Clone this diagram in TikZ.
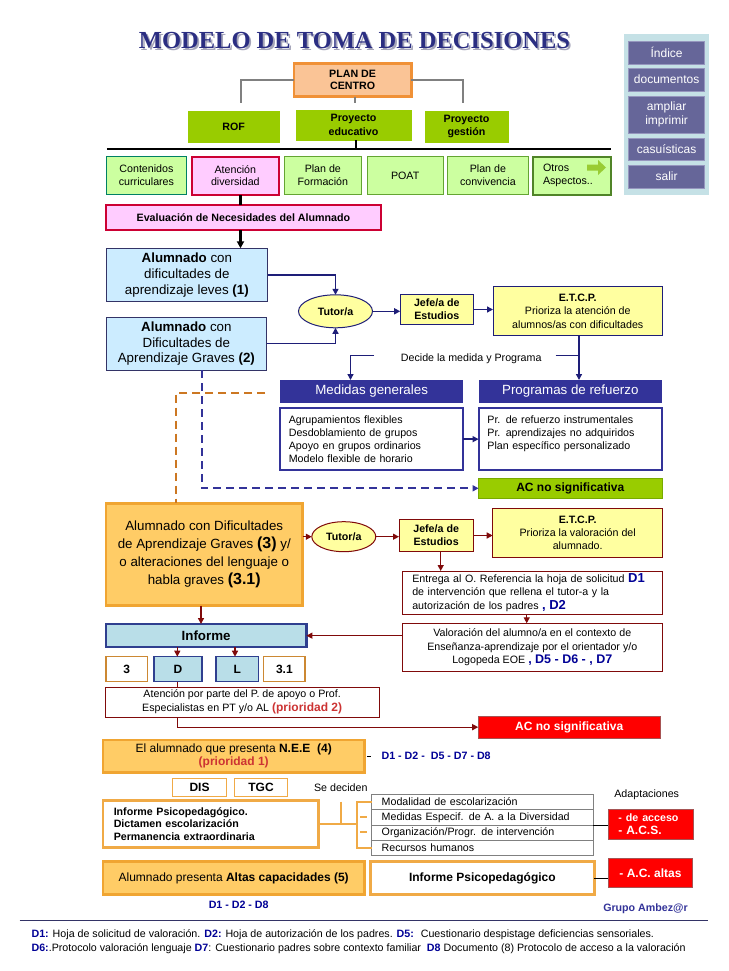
\documentclass[tikz,border=0pt]{standalone}
\usepackage{fontspec}
\setmainfont{Liberation Sans}
\newfontfamily\titlefont{Liberation Serif}
\usetikzlibrary{arrows.meta,shapes.geometric}
\newcommand\fsz[2]{\fontsize{#1}{#2}\selectfont}
\definecolor{navfill}{RGB}{102,102,153}
\definecolor{navedge}{RGB}{150,150,190}
\definecolor{panel}{RGB}{197,225,230}
\definecolor{plfill}{RGB}{250,196,150}
\definecolor{pledge}{RGB}{240,145,55}
\definecolor{greenA}{RGB}{153,204,0}
\definecolor{greenE}{RGB}{120,170,0}
\definecolor{lgfill}{RGB}{204,255,160}
\definecolor{lgedge}{RGB}{100,165,50}
\definecolor{ccedge}{RGB}{0,128,100}
\definecolor{arrowg}{RGB}{153,204,51}
\definecolor{pinkfill}{RGB}{255,204,255}
\definecolor{pinkedge}{RGB}{204,0,51}
\definecolor{lbfill}{RGB}{204,236,255}
\definecolor{lbedge}{RGB}{51,51,102}
\definecolor{ylfill}{RGB}{255,255,160}
\definecolor{hdr}{RGB}{51,51,153}
\definecolor{navyA}{RGB}{30,30,120}
\definecolor{infofill}{RGB}{185,222,232}
\definecolor{infoedge}{RGB}{47,63,143}
\definecolor{orfill}{RGB}{255,204,102}
\definecolor{oredge}{RGB}{240,165,50}
\definecolor{brown}{RGB}{204,136,51}
\definecolor{dkred}{RGB}{128,10,10}
\definecolor{redA}{RGB}{255,0,0}
\definecolor{prio}{RGB}{204,51,51}
\definecolor{dnavy}{RGB}{0,0,150}
\definecolor{titlec}{RGB}{43,46,130}
\definecolor{titles}{RGB}{165,165,185}
\definecolor{grayl}{RGB}{128,128,128}
\definecolor{orangeD}{RGB}{204,119,34}
\definecolor{orangeL}{RGB}{240,170,70}
\newcommand\dn[1]{{\bfseries\color{dnavy}#1}}
\begin{document}
\begin{tikzpicture}[x=1pt,y=-1pt,
  base/.style={inner sep=0pt,outer sep=0pt,align=center,font=\fsz{10.67}{13}},
  navbtn/.style={base,fill=navfill,draw=navedge,line width=0.8pt,text=white,minimum width=76pt,font=\fsz{12}{14.4}},
  plan/.style={base,fill=plfill,draw=pledge,line width=2.5pt,font=\bfseries\fsz{10.67}{12}},
  gbox/.style={base,fill=greenA,draw=greenA,font=\bfseries\fsz{10.67}{13.3}},
  lgbox/.style={base,fill=lgfill,draw=lgedge,line width=1pt,minimum height=38pt,font=\fsz{10.67}{12.7}},
  pinkbox/.style={base,fill=pinkfill,draw=pinkedge,line width=2pt},
  bluebox/.style={base,fill=lbfill,draw=lbedge,line width=1pt,font=\fsz{13.33}{15.8}},
  tutor/.style={base,ellipse,fill=ylfill,draw=navyA,line width=1pt,font=\bfseries\fsz{10.67}{13}},
  ybox/.style={base,fill=ylfill,draw=navyA,line width=1pt},
  hdrbox/.style={base,fill=hdr,text=white,font=\fsz{13.33}{16}},
  listbox/.style={base,fill=white,draw=hdr,line width=1.8pt,align=left,font=\fsz{10.67}{12.8}},
  acg/.style={base,fill=greenA,draw=greenE,line width=0.8pt,font=\bfseries\fsz{12}{14}},
  acr/.style={base,fill=redA,draw=dkred!70,line width=0.8pt,text=white,font=\bfseries\fsz{12}{14}},
  orbox/.style={base,fill=orfill,draw=oredge,line width=2.5pt,font=\fsz{12}{13.3}},
  rbox/.style={base,fill=white,draw=dkred,line width=1pt},
  infobox/.style={base,fill=infofill,draw=infoedge,line width=2.2pt,font=\bfseries\fsz{13.33}{15}},
  smallb/.style={base,fill=white,draw=brown,line width=1.5pt,font=\bfseries\fsz{12}{14}},
  smallbl/.style={base,fill=infofill,draw=infoedge,line width=1.5pt,font=\bfseries\fsz{12}{14}},
  obox/.style={base,fill=white,draw=orangeL,line width=1.4pt,font=\bfseries\fsz{12}{14}},
  oboxt/.style={base,fill=white,draw=orangeL,line width=2.8pt},
  trow/.style={base,fill=white,draw=grayl,line width=0.7pt,minimum width=221.6pt,minimum height=15.35pt,text width=201.6pt,align=left},
  lbl/.style={base},
  grayline/.style={draw=grayl,line width=2pt},
  blackline/.style={draw=black,line width=2.2pt},
  blackarrow/.style={draw=black,line width=2.2pt,-{Triangle[length=7pt,width=7pt]}},
  navline/.style={draw=navyA,line width=1.4pt},
  navarrow/.style={draw=navyA,line width=1.4pt,-{Triangle[length=6pt,width=6pt]}},
  navdash/.style={draw=hdr,line width=1.8pt,dash pattern=on 8pt off 5pt,-{Triangle[length=6pt,width=6pt]}},
  orangedash/.style={draw=orangeD,line width=2.2pt,dash pattern=on 8pt off 5pt},
  redline/.style={draw=dkred,line width=1.3pt},
  redarrow/.style={draw=dkred,line width=1.3pt,-{Triangle[length=6pt,width=6pt]}},
  orangeline/.style={draw=orangeL,line width=2pt},
  thinline/.style={draw=black,line width=1pt}
]
\useasboundingbox (0,0) rectangle (728,971);
\fill[white] (0,0) rectangle (728,971);

% title
\node[base,font=\titlefont\bfseries\fsz{24.5}{28},text=titles] (titleS) at (356.3,42.8) {MODELO DE TOMA DE DECISIONES};
\node[base,font=\titlefont\bfseries\fsz{24.5}{28},text=titlec] (title) at (354.5,41) {MODELO DE TOMA DE DECISIONES};

% navigation panel
\fill[panel] (623.5,34) rectangle (709.4,195);
\node[navbtn,minimum height=23pt] (nav1) at (666.6,52.5) {Índice};
\node[navbtn,minimum height=23pt] (nav2) at (666.6,79.5) {documentos};
\node[navbtn,minimum height=37pt] (nav3) at (666.6,114.5) {ampliar\\imprimir};
\node[navbtn,minimum height=22pt] (nav4) at (666.6,149) {casuísticas};
\node[navbtn,minimum height=23pt] (nav5) at (666.6,176.5) {salir};

% plan de centro
\node[plan,minimum width=117.4pt,minimum height=33.4pt] (PLAN) at (352.6,80) {PLAN DE\\CENTRO};
\node[gbox,minimum width=91.5pt,minimum height=30.7pt] (ROF) at (233.75,126.35) {ROF};
\node[gbox,minimum width=115pt,minimum height=30pt] (PE) at (353.5,125) {Proyecto\\educativo};
\node[gbox,minimum width=83pt,minimum height=30.7pt] (PG) at (466.5,126.35) {Proyecto\\gestión};
\coordinate (gL) at (241.4,103);
\coordinate (gR) at (463.3,103);
\coordinate (gC) at (355,103);
\draw[grayline] (PLAN.west) -| (gL);
\draw[grayline] (PLAN.east) -| (gR);
\draw[grayline] (PLAN.south -| gC) -- (gC);
\coordinate (hL) at (106.8,148.7);
\coordinate (hR) at (611,148.7);
\coordinate (hC) at (356,148.7);
\draw[blackline] (hL) -- (hR);
\draw[blackline] (PE.south -| hC) -- (hC);

% row of boxes
\node[lgbox,draw=ccedge,minimum width=80.3pt] (CC) at (146.45,175.5) {Contenidos\\curriculares};
\node[pinkbox,minimum width=87.3pt,minimum height=38pt,font=\fsz{10.67}{12.7}] (AD) at (235.35,175.5) {Atención\\diversidad};
\node[lgbox,minimum width=77.7pt] (PF) at (322.85,175.5) {Plan de\\Formación};
\node[lgbox,minimum width=76.4pt] (POAT) at (405.2,175.5) {POAT};
\node[lgbox,minimum width=80.8pt] (PC) at (487.9,175.5) {Plan de\\convivencia};
\node[lgbox,line width=2pt,draw=lgedge!80!black,minimum width=77.1pt,text width=57.9pt,align=left] (OA) at (571.95,175.5) {Otros\\Aspectos..};
\fill[arrowg] (587,164.5) -- (598,164.5) -- (598,160) -- (606,167.5) -- (598,175) -- (598,170.5) -- (587,170.5) -- cycle;

% evaluación
\node[pinkbox,minimum width=275.2pt,minimum height=25.3pt,font=\bfseries\fsz{10.67}{13}] (Eval) at (243.4,217.65) {Evaluación de Necesidades del Alumnado};
\coordinate (c1) at (240.5,0);
\draw[blackline] (AD.south -| c1) -- (Eval.north -| c1);

% alumnado leves / graves
\node[bluebox,minimum width=161.7pt,minimum height=53.4pt] (Leves) at (186.85,275) {{\bfseries Alumnado} con\\dificultades de\\aprendizaje leves {\bfseries (1)}};
\node[bluebox,minimum width=160.7pt,minimum height=52.7pt] (Graves) at (186.35,343.65) {{\bfseries Alumnado} con\\Dificultades de\\Aprendizaje Graves {\bfseries (2)}};
\draw[blackarrow] (Eval.south -| c1) -- (Leves.north -| c1);
\node[tutor,minimum width=74pt,minimum height=33pt] (Tutor1) at (335.5,311.3) {Tutor/a};
\node[ybox,minimum width=73.3pt,minimum height=30.4pt,font=\bfseries\fsz{10.67}{13.3}] (Jefe1) at (436.85,309.5) {Jefe/a de\\Estudios};
\node[ybox,minimum width=169.5pt,minimum height=49pt,font=\fsz{10.67}{13.3}] (ETCP1) at (577.75,311.2) {{\bfseries E.T.C.P.}\\Prioriza la atención de\\alumnos/as con dificultades};
\draw[navarrow] (Leves.east) -| (Tutor1.north);
\draw[navarrow] (Graves.east) -| (Tutor1.south);
\draw[navarrow] (Tutor1.east) -- (Tutor1.east -| Jefe1.west);
\draw[navarrow] (Jefe1.east) -- (Jefe1.east -| ETCP1.west);

% medidas / programas
\node[hdrbox,minimum width=183.3pt,minimum height=23pt] (MH) at (371.65,391.5) {Medidas generales};
\node[hdrbox,minimum width=183.4pt,minimum height=23pt] (PH) at (570.3,391.5) {Programas de refuerzo};
\node[listbox,minimum width=183.3pt,minimum height=61.7pt,text width=165.7pt] (ML) at (371.65,439.15) {Agrupamientos flexibles\\Desdoblamiento de grupos\\Apoyo en grupos ordinarios\\Modelo flexible de horario};
\node[listbox,minimum width=183.4pt,minimum height=61.7pt,text width=165.8pt] (PL) at (570.3,439.15) {Pr. de refuerzo instrumentales\\Pr. aprendizajes no adquiridos\\Plan específico personalizado\\\mbox{}};
\node[acg,minimum width=183.4pt,minimum height=20pt] (AC1) at (570.3,488.3) {AC no significativa};
\node[lbl] (Decide) at (471.2,358.3) {Decide la medida y Programa};
\coordinate (c579) at (579,0);
\coordinate (c350) at (350.5,0);
\coordinate (dR) at (555.7,355.7);
\coordinate (dL) at (374,355.7);
\draw[navarrow] (ETCP1.south -| c579) -- (PH.north -| c579);
\draw[navline] (dR) -- (dR -| c579);
\draw[navarrow] (dL) -- (dL -| c350) -- (MH.north -| c350);
\draw[navarrow] (ML.east) -- (PL.west);
\coordinate (c201) at (201.7,0);
\draw[navdash] (Graves.south -| c201) |- (AC1.west);

% alumnado graves (3)
\node[orbox,line width=2.5pt,minimum width=196.9pt,minimum height=102.4pt,font=\fsz{13.33}{18}] (Big) at (204.25,554.5) {Alumnado con Dificultades\\de Aprendizaje Graves {\fsz{16}{18}\bfseries(3)} y/\\o alteraciones del lenguaje o\\habla graves {\fsz{16}{18}\bfseries(3.1)}};
\coordinate (od) at (265,392.7);
\coordinate (c175) at (176,0);
\draw[orangedash] (od) -| (Big.north -| c175);
\node[tutor,draw=dkred,minimum width=64pt,minimum height=30pt] (Tutor2) at (343.8,536.7) {Tutor/a};
\node[ybox,draw=dkred,minimum width=74.3pt,minimum height=32.4pt,font=\bfseries\fsz{10.67}{13.3}] (Jefe2) at (436.15,535.5) {Jefe/a de\\Estudios};
\node[ybox,draw=dkred,minimum width=170pt,minimum height=49pt,font=\fsz{10.67}{13}] (ETCP2) at (577.7,532.8) {{\bfseries E.T.C.P.}\\Prioriza la valoración del\\alumnado.};
\node[rbox,minimum width=260pt,minimum height=43pt,text width=240pt,align=left,font=\fsz{10.67}{13.3}] (Entrega) at (532.3,592.5) {Entrega al O. Referencia la hoja de solicitud \dn{\fsz{13}{13}D1}\\de intervención que rellena el tutor-a y la\\autorización de los padres \dn{\fsz{13}{13}, D2}};
\node[rbox,minimum width=260pt,minimum height=48.4pt,font=\fsz{10.67}{13.6}] (Val) at (532.3,647.5) {Valoración del alumno/a en el contexto de\\Enseñanza-aprendizaje por el orientador y/o\\Logopeda EOE \dn{\fsz{12.5}{13}, D5 - D6 - , D7}};
\coordinate (c440) at (440.7,0);
\coordinate (c527) at (526.7,0);
\draw[redarrow] (Tutor2.west -| Big.east) -- (Tutor2.west);
\draw[redarrow] (Tutor2.east) -- (Tutor2.east -| Jefe2.west);
\draw[redarrow] (Jefe2.east) -- (Jefe2.east -| ETCP2.west);
\draw[redarrow] (Jefe2.south -| c440) -- (Entrega.north -| c440);
\draw[redarrow] (Entrega.south -| c527) -- (Val.north -| c527);

% informe
\node[infobox,minimum width=200.6pt,minimum height=23.3pt] (Informe) at (206.1,635.65) {Informe};
\draw[redarrow] (Val.west |- Informe.east) -- (Informe.east);
\coordinate (c201b) at (201,0);
\draw[redarrow] (Big.south -| c201b) -- (Informe.north -| c201b);
\node[smallb,minimum width=41.8pt,minimum height=25pt] (B3) at (126.7,669.2) {3};
\node[smallbl,minimum width=47.9pt,minimum height=25pt] (BD) at (178.05,669.2) {D};
\node[smallbl,minimum width=42.7pt,minimum height=25pt] (BL) at (237.25,669.2) {L};
\node[smallb,minimum width=41.3pt,minimum height=25pt] (B31) at (284.35,669.2) {3.1};
\coordinate (cD) at (177.3,0);
\coordinate (cL) at (235,0);
\draw[redarrow] (Informe.south -| cD) -- (BD.north -| cD);
\draw[redarrow] (Informe.south -| cL) -- (BL.north -| cL);
\node[rbox,minimum width=274.3pt,minimum height=30pt,font=\fsz{10.67}{14}] (Aten) at (242.15,702.3) {Atención por parte del P. de apoyo o Prof.\\Especialistas en PT y/o AL {\bfseries\color{prio}\fsz{12}{14}(prioridad 2)}};
\draw[redline] (BD.south -| cD) -- (Aten.north -| cD);
\node[acr,minimum width=182pt,minimum height=22.3pt] (AC2) at (569.2,727.15) {AC no significativa};
\draw[redarrow] (Aten.south -| cD) |- (AC2.west);

% NEE
\node[orbox,minimum width=261.4pt,minimum height=32.3pt] (NEE) at (233.7,756.15) {El alumnado que presenta {\bfseries N.E.E~~(4)}\\{\bfseries\color{prio}(prioridad 1)}};
\coordinate (nd) at (366.8,756);
\draw[thinline] (nd) -- ++(4.6,0);
\node[base,anchor=west,font=\bfseries\fsz{10.67}{13},text=dnavy] (Dlist) at (381.6,756) {D1 - D2 -~ D5 - D7 - D8};
\node[obox,minimum width=54.4pt,minimum height=18.4pt] (DIS) at (199.5,787.5) {DIS};
\node[obox,minimum width=53.4pt,minimum height=18.4pt] (TGC) at (261,787.5) {TGC};
\node[lbl] (SeD) at (340.8,787.7) {Se deciden};
\node[oboxt,minimum width=215.5pt,minimum height=46.6pt,text width=194pt,align=left,font=\bfseries\fsz{10.67}{12.3}] (IPL) at (210.75,824) {Informe Psicopedagógico.\\Dictamen escolarización\\Permanencia extraordinaria};
\node[trow] (R1) at (482.5,801.98) {Modalidad de escolarización};
\node[trow] (R2) at (482.5,817.33) {Medidas Especif. de A. a la Diversidad};
\node[trow] (R3) at (482.5,832.68) {Organización/Progr. de intervención};
\node[trow] (R4) at (482.5,848.03) {Recursos humanos};
\coordinate (bT) at (356.5,801.7);
\coordinate (bB) at (356.5,848.3);
\coordinate (stem) at (341,801.7);
\coordinate (m1) at (360,817.3);
\coordinate (m2) at (360,832.3);
\draw[orangeline] (IPL.east) -- (IPL.east -| bT);
\draw[orangeline] (stem) -- (stem |- IPL.east);
\draw[orangeline] (R1.west |- bT) -- (bT) -- (bB) -- (R1.west |- bB);
\draw[orangeline] (m1) -- ++(6.8,0);
\draw[orangeline] (m2) -- ++(6.8,0);
\node[lbl] (Adap) at (646.7,794.3) {Adaptaciones};
\node[acr,minimum width=85pt,minimum height=30pt,text width=65pt,align=left,font=\bfseries\fsz{12}{13}] (ACS) at (650.8,824.3) {{\fsz{10.67}{13}- de acceso}\\- A.C.S.};
\draw[thinline] (R3.north east) -- (R3.north east -| ACS.west);

% altas capacidades
\node[orbox,minimum width=261.4pt,minimum height=32.6pt] (Altas) at (233.7,878) {Alumnado presenta {\bfseries Altas capacidades (5)}};
\node[oboxt,minimum width=223.7pt,minimum height=32.6pt,font=\bfseries\fsz{12}{14}] (IPR) at (482.35,878) {Informe Psicopedagógico};
\node[acr,minimum width=84.5pt,minimum height=29pt] (AltasRed) at (650.45,872.8) {- A.C. altas};
\draw[thinline] (IPR.east) -- (IPR.east -| AltasRed.west);
\node[base,font=\bfseries\fsz{10.67}{13},text=dnavy] (D128) at (238.7,905) {D1 - D2 - D8};
\node[base,font=\bfseries\fsz{10.67}{13},text=hdr] (Grupo) at (645.5,909) {Grupo Ambez@r};

% footer
\coordinate (fL) at (19.5,920.3);
\coordinate (fR) at (708,920.3);
\draw[draw=lbedge,line width=1.5pt] (fL) -- (fR);
\node[base,anchor=west] (F1) at (31.6,935) {\dn{D1:} Hoja de solicitud de valoración. \dn{D2:} Hoja de autorización de los padres. \dn{D5:}~ Cuestionario despistage deficiencias sensoriales.};
\node[base,anchor=west] (F2) at (31.6,948.3) {\dn{D6:}.Protocolo valoración lenguaje \dn{D7}: Cuestionario padres sobre contexto familiar~ \dn{D8} Documento (8) Protocolo de acceso a la valoración};
\end{tikzpicture}
\end{document}
